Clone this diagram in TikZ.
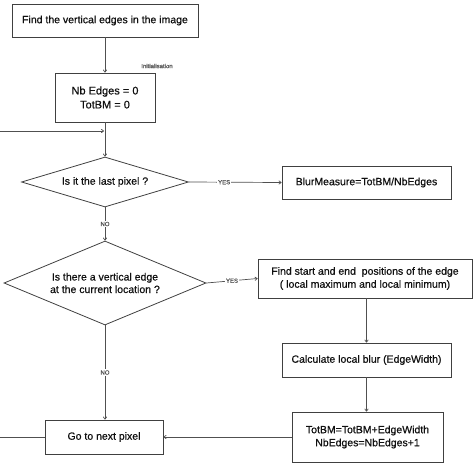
\documentclass[tikz,border=0pt]{standalone}
\usepackage{fontspec}
\setmainfont[FakeBold=0.6]{Liberation Sans}
\usetikzlibrary{shapes.geometric,arrows.meta}
\definecolor{edgecol}{HTML}{505050}
\definecolor{boxcol}{HTML}{404040}
\definecolor{txtcol}{HTML}{101010}
\definecolor{lblcol}{HTML}{555555}
\tikzset{
  procbox/.style={draw=boxcol, line width=0.8pt, rectangle, inner sep=0pt, align=center, text=txtcol, font=\fontsize{10.5}{13}\selectfont},
  decbox/.style={draw=boxcol, line width=0.8pt, diamond, inner sep=0pt, align=center, text=txtcol, font=\fontsize{10.5}{12.5}\selectfont},
  conn/.style={draw=edgecol, line width=0.7pt},
  arr/.style={conn, -{To[length=3pt,width=4pt]}},
  lbl/.style={text=lblcol, font=\fontsize{6}{7}\selectfont, inner sep=1pt},
  lblw/.style={lbl, fill=white}
}
\begin{document}
\begin{tikzpicture}[x=1pt,y=-1pt]
\useasboundingbox (0,0) rectangle (474,474);
\node[procbox, minimum width=186pt, minimum height=33pt] (b1) at (105,20.5) {Find the vertical edges in the image};
\node[procbox, minimum width=100pt, minimum height=49pt, font=\fontsize{11}{14}\selectfont] (b2) at (105,97.5) {Nb Edges = 0\\TotBM = 0};
\node[decbox, aspect=3.34, minimum width=167pt, minimum height=50pt] (d1) at (105,182) {Is it the last pixel ?};
\node[decbox, aspect=2.4, minimum width=202pt, minimum height=84pt] (d2) at (105,283) {Is there a vertical edge\\at the current location ?};
\node[procbox, minimum width=169pt, minimum height=33pt] (blur) at (366.5,182.5) {BlurMeasure=TotBM/NbEdges};
\node[procbox, minimum width=214pt, minimum height=39pt] (find) at (365,278.5) {Find start and end \ positions of the edge\\( local maximum and local minimum)};
\node[procbox, minimum width=169pt, minimum height=34pt] (calc) at (366.5,360) {Calculate local blur (EdgeWidth)};
\node[procbox, minimum width=151pt, minimum height=50pt] (tot) at (367.5,437) {TotBM=TotBM+EdgeWidth\\NbEdges=NbEdges+1};
\node[procbox, minimum width=118pt, minimum height=34pt] (go) at (104,437) {Go to next pixel};
\node[lbl] (init) at (157,66) {Initialisation};
\coordinate (loopin) at (104,131);
\coordinate (loopL) at (-6,437);

\draw[arr] (b1.south) -- (b2.north);
\draw[arr] (b2.south) -- (d1.north);
\draw[arr] (go.west) -- (loopL) |- (loopin);
\draw[arr] (d1.east) -- node[lblw, pos=0.38] {YES} (blur.west);
\draw[arr] (d1.south) -- node[lblw] {NO} (d2.north);
\draw[arr] (d2.east) -- node[lblw] {YES} (find.west);
\draw[arr] (find.south -| calc.north) -- (calc.north);
\draw[arr] (calc.south) -- (calc.south |- tot.north);
\draw[arr] (tot.west) -- (go.east);
\draw[arr] (d2.south) -- node[lblw] {NO} (d2.south |- go.north);
\end{tikzpicture}
\end{document}
